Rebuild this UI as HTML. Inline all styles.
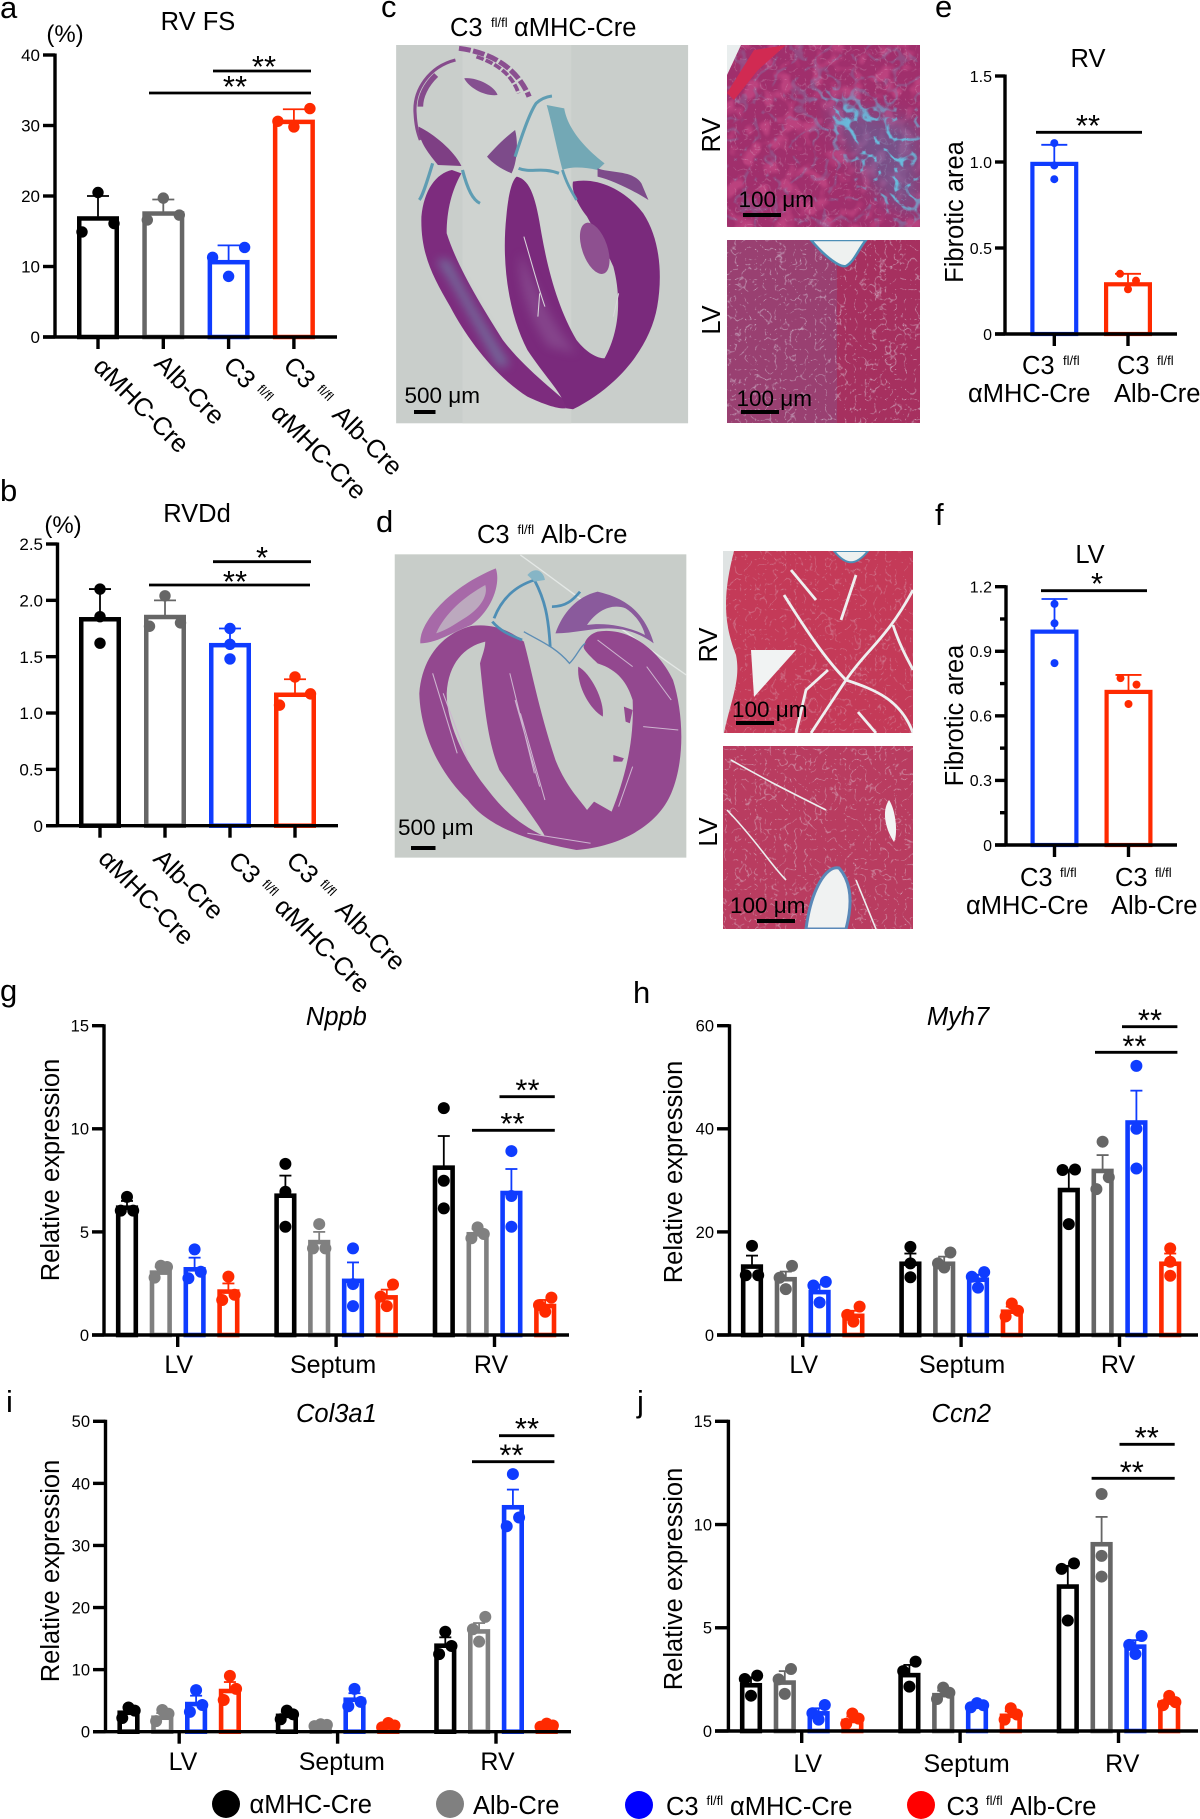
<!DOCTYPE html>
<html lang="en">
<head>
<meta charset="utf-8">
<title>C3 figure</title>
<style>
html,body{margin:0;padding:0;background:#fff;}
svg{display:block;font-family:"Liberation Sans",Arial,sans-serif;}
text{fill:#000;}
</style>
</head>
<body>
<svg id="figure" xmlns="http://www.w3.org/2000/svg" width="1200" height="1819" viewBox="0 0 1200 1819">
<defs>
<filter id="webPale" x="0" y="0" width="1" height="1"><feTurbulence type="turbulence" baseFrequency="0.1" numOctaves="2" seed="4"/><feColorMatrix values="0 0 0 0 .80  0 0 0 0 .86  0 0 0 0 .92  -9 0 0 0 1.0"/></filter>
<filter id="webBlue" x="0" y="0" width="1" height="1"><feTurbulence type="turbulence" baseFrequency="0.05" numOctaves="2" seed="7"/><feColorMatrix values="0 0 0 0 .14  0 0 0 0 .50  0 0 0 0 .72  -10 0 0 0 1.6"/></filter>
<filter id="cellDark" x="0" y="0" width="1" height="1"><feTurbulence type="fractalNoise" baseFrequency="0.06" numOctaves="2" seed="9"/><feColorMatrix values="0 0 0 0 .72  0 0 0 0 .10  0 0 0 0 .30  0 5 0 0 -2.5"/></filter>
<filter id="blurBlue" x="-30%" y="-30%" width="160%" height="160%"><feGaussianBlur stdDeviation="10"/></filter>
<filter id="blurSoft" x="-30%" y="-30%" width="160%" height="160%"><feGaussianBlur stdDeviation="14"/></filter>
<mask id="blueArea"><path fill="#333" d="M731,45H925V227H731Z"/><path fill="#fff" filter="url(#blurBlue)" d="M820,90L925,120V215L895,215C865,175 830,135 820,90Z"/></mask>
<clipPath id="clipCRV"><rect x="731" y="45" width="193" height="182"/></clipPath>
<clipPath id="clipCLV"><rect x="731" y="240" width="193" height="183"/></clipPath>
<clipPath id="clipDRV"><rect x="727" y="551" width="190" height="182"/></clipPath>
<clipPath id="clipDLV"><rect x="727" y="746" width="190" height="183"/></clipPath>
</defs>

<!-- panel letters -->
<g font-size="31">
<text x="0" y="18">a</text>
<text x="0" y="501">b</text>
<text x="381" y="17">c</text>
<text x="376" y="532">d</text>
<text x="935" y="17">e</text>
<text x="935" y="525">f</text>
<text x="0" y="1001">g</text>
<text x="633" y="1003">h</text>
<text x="6" y="1412">i</text>
<text x="637" y="1412">j</text>
</g>

<!-- panel c heart -->
<g transform="translate(380,0) scale(0.3509,0.3333)">
<rect x="46" y="135" width="832" height="1135" fill="#c9cecb"/>
<rect x="235" y="135" width="310" height="1135" fill="#cfd3d0"/>
<path fill="#7d2c7e" d="M205,510C160,520 125,570 118,650C115,760 150,830 200,920C250,1020 330,1130 420,1190C470,1215 510,1228 530,1225L525,1200C470,1150 400,1090 350,1020C290,920 220,800 190,700C190,630 205,570 232,520Z"/>
<path fill="#7a2a7c" d="M390,530C430,540 445,600 460,700C480,820 510,930 560,1020C590,1060 620,1075 640,1075C680,1000 690,900 665,800C640,740 610,690 590,650C560,610 545,570 550,545C620,530 700,570 750,640C800,720 805,830 790,920C770,1040 680,1160 550,1228L530,1225C520,1180 470,1130 420,1050C370,950 345,800 360,650C365,590 375,540 390,530Z"/>
<ellipse cx="612" cy="745" rx="36" ry="80" transform="rotate(-18 612 745)" fill="#8e5090"/>
<path fill="#6f86a8" filter="url(#blurSoft)" opacity=".75" d="M160,780C200,830 260,960 340,1100L370,1095C310,1000 240,870 195,780Z"/>
<path fill="#8e5a98" filter="url(#blurSoft)" opacity=".55" d="M400,760C440,850 480,960 560,1060L480,1040C430,960 390,860 400,760Z"/>
<path fill="none" stroke="#864b8c" stroke-width="9" d="M215,180C140,200 95,270 100,340C102,380 108,400 115,420"/>
<path fill="none" stroke="#864b8c" stroke-width="16" d="M160,225C130,255 115,290 115,320"/>
<path fill="#7e3f84" d="M110,380C150,400 210,450 232,498L165,495C130,450 110,420 110,380Z"/>
<path fill="none" stroke="#8a4f90" stroke-width="15" stroke-dasharray="34 7" d="M225,145C300,155 385,190 425,290"/>
<path fill="none" stroke="#8a4f90" stroke-width="11" stroke-dasharray="22 6" d="M275,170C330,190 375,220 395,280"/>
<path fill="#855090" d="M240,235C270,230 325,255 335,285C300,290 255,265 240,235Z"/>
<path fill="#7d4b8a" d="M305,470C330,440 360,410 385,390C395,430 390,490 375,520C350,510 320,490 305,470Z"/>
<path fill="none" stroke="#5f9db3" stroke-width="9" d="M385,470C400,420 425,340 445,310C460,295 475,290 490,288M395,505C430,520 460,500 510,520M235,510C250,570 265,600 285,610M150,490C130,560 120,590 112,600"/>
<path fill="#73a8b5" d="M475,315L525,325C535,390 590,450 640,490L620,510C580,500 540,500 520,510C500,430 490,370 475,315Z"/>
<path fill="#7d4b8a" d="M620,505C660,520 720,510 745,550L765,600C720,570 660,540 620,530Z"/>
<path fill="none" stroke="#5f9db3" stroke-width="8" d="M520,510C535,560 550,580 560,600"/>
<path fill="none" stroke="#d9d6dc" stroke-width="3" d="M410,710C430,780 450,860 470,920M455,880L450,950M680,880L665,950"/>
</g>

<!-- panel c micrographs -->
<g transform="translate(-4,0)">
<g clip-path="url(#clipCRV)">
<rect x="731" y="45" width="193" height="182" fill="#a02f6c"/>
<rect x="731" y="45" width="193" height="182" filter="url(#cellDark)" opacity=".45"/>
<rect x="731" y="45" width="193" height="182" filter="url(#webPale)" opacity=".25"/>
<path d="M830,100L924,125V215L895,205C865,170 840,135 830,100Z" fill="#3f83b4" filter="url(#blurBlue)" opacity=".4"/>
<rect x="731" y="45" width="193" height="182" filter="url(#webBlue)" mask="url(#blueArea)"/>
<path d="M731,45H745L731,75Z" fill="#e9eeee"/><path d="M731,93L758,50L790,45L762,70L738,100Z" fill="#d12a52"/>
</g>
<g clip-path="url(#clipCLV)">
<rect x="731" y="240" width="193" height="183" fill="#a6305f"/>
<rect x="731" y="240" width="110" height="183" fill="#8a5588" opacity=".45"/>
<rect x="731" y="240" width="193" height="183" filter="url(#webPale)" opacity=".5"/>
<path d="M815,240C830,258 845,268 850,266C858,262 862,250 870,240Z" fill="#eef1f0" stroke="#4c8eb6" stroke-width="2.5"/>
</g>
</g>

<!-- panel d heart -->
<g transform="translate(380,500) scale(0.3509,0.3333)">
<rect x="42" y="163" width="831" height="910" fill="#c8cdc9"/>
<path d="M400,165C500,240 700,400 873,525" fill="none" stroke="#e4e8e6" stroke-width="4"/>
<path fill="#93488f" d="M260,378C180,400 120,470 112,580C115,700 170,820 250,900C300,970 400,1020 560,1050C680,1040 790,980 830,880C870,780 865,640 835,540C790,440 700,380 620,395C590,405 575,430 580,470L540,490L410,425C370,390 320,370 260,378Z"/>
<path fill="#c8cdc9" d="M300,425C240,440 195,490 190,580C190,670 240,780 300,860C330,900 370,960 470,1010C470,1000 400,900 340,810C310,730 300,650 285,490C290,470 300,445 300,425Z"/>
<path fill="#c8cdc9" d="M410,425C430,500 450,620 500,780C530,860 570,900 590,930L610,905L660,935C700,830 725,720 720,600C705,550 680,510 620,490C600,470 580,450 580,440L520,450Z"/>
<path fill="#93488f" d="M565,500C600,520 640,600 635,650C600,630 560,560 565,500Z"/>
<path fill="#93488f" d="M695,620L720,630L712,670L700,665ZM665,765L695,775L690,785L665,785Z"/>
<path fill="#a769a8" d="M115,430C110,380 180,270 330,205C345,250 320,330 260,375C200,400 160,430 115,430Z"/>
<path fill="#c8cdc9" opacity=".65" d="M160,400C185,340 240,290 300,255C310,290 280,330 240,355C210,375 190,390 160,400Z"/>
<path fill="#8a5a9c" d="M500,400C520,340 560,290 620,275C680,290 750,320 780,430C740,400 700,385 650,385C600,385 550,400 500,400Z"/>
<path fill="#c8cdc9" d="M590,375C620,330 660,310 700,325C730,345 750,380 755,405C720,385 650,365 590,375Z"/>
<path fill="none" stroke="#4e8eb5" stroke-width="8" d="M325,355C345,300 380,260 440,240M440,240C470,300 480,350 485,440M490,320C530,320 550,300 570,275M320,365C345,395 370,405 405,420"/>
<path fill="none" stroke="#5c8db5" stroke-width="4" d="M410,395C450,420 500,440 540,490C560,470 570,440 585,430"/>
<path fill="#86b5c6" d="M420,225C440,200 465,210 470,240L440,245Z"/>
<path fill="none" stroke="#cdb5d0" stroke-width="3" d="M370,520L440,820M400,640L470,900M385,600L455,860M620,420L720,500M180,580L250,780M150,520L220,760M760,500L830,600M720,800L680,920M750,680L850,690M420,1000L600,1030"/>
</g>

<!-- panel d micrographs -->
<g transform="translate(-4,0)">
<g clip-path="url(#clipDRV)">
<rect x="727" y="551" width="190" height="182" fill="#c43a58"/>
<rect x="727" y="551" width="190" height="182" filter="url(#webPale)" opacity=".3"/>
<path d="M727,551H738C728,590 726,620 740,655C745,680 735,700 728,733H727Z" fill="#dfe3e3"/>
<path d="M755,650H800L758,697Z" fill="#f1f3f3"/>
<g fill="none" stroke="#eef0f0" stroke-width="2.8"><path d="M788,595C810,630 830,660 850,680C870,650 890,640 917,590M850,680L815,733M850,680C880,690 905,700 917,733M862,712L880,733M897,625C905,650 915,665 917,670M845,620L860,575M795,570L820,600M832,670L810,690L800,733"/></g>
<path d="M838,551C850,566 860,566 872,551Z" fill="#eef1f0" stroke="#4c8eb6" stroke-width="2"/>
</g>
<g clip-path="url(#clipDLV)">
<rect x="727" y="746" width="190" height="183" fill="#b93c60"/>
<rect x="727" y="746" width="190" height="183" filter="url(#webPale)" opacity=".45"/>
<path d="M810,929C815,890 830,865 843,868C858,885 855,910 850,929Z" fill="#f0f2f2" stroke="#5a88b8" stroke-width="3"/>
<path d="M893,800C900,810 902,835 898,842C890,830 885,812 893,800Z" fill="#f3f4f4"/>
<g fill="none" stroke="#ecefef" stroke-width="1.6"><path d="M731,810C760,840 775,865 790,880M735,760C770,780 790,790 830,810M860,880L880,929"/></g>
</g>
</g>

<!-- image titles and scale labels -->
<g font-size="25.5">
<text x="450" y="36">C3</text>
<text x="491" y="27" font-size="13">fl/fl</text>
<text x="514" y="36">αMHC-Cre</text>
<text x="477" y="543">C3</text>
<text x="517.5" y="534" font-size="13">fl/fl</text>
<text x="541" y="543">Alb-Cre</text>
<text text-anchor="middle" transform="translate(720,135) rotate(-90)">RV</text>
<text text-anchor="middle" transform="translate(720,320) rotate(-90)">LV</text>
<text text-anchor="middle" transform="translate(717,645) rotate(-90)">RV</text>
<text text-anchor="middle" transform="translate(717,832) rotate(-90)">LV</text>
</g>
<g font-size="22.5">
<text x="404.5" y="403">500 μm</text>
<text x="738.5" y="207">100 μm</text>
<text x="736.5" y="406">100 μm</text>
<text x="398" y="835">500 μm</text>
<text x="732" y="717">100 μm</text>
<text x="730" y="913">100 μm</text>
</g>
<g fill="#000">
<rect x="414" y="410" width="21.5" height="4"/>
<rect x="743" y="213" width="38" height="4"/>
<rect x="741" y="410" width="38" height="4"/>
<rect x="411" y="846" width="24.5" height="4"/>
<rect x="736" y="721" width="38" height="4"/>
<rect x="757" y="919" width="38" height="4"/>
</g>

<!-- legend -->
<g font-size="25.5">
<circle cx="226" cy="1804" r="14" fill="#000"/>
<text x="249.5" y="1813">αMHC-Cre</text>
<circle cx="450" cy="1804" r="14" fill="#808080"/>
<text x="473" y="1814">Alb-Cre</text>
<circle cx="639" cy="1805" r="14" fill="#0000ff"/>
<text x="666" y="1815">C3</text>
<text x="706.5" y="1805" font-size="13">fl/fl</text>
<text x="730" y="1815">αMHC-Cre</text>
<circle cx="921" cy="1805" r="14" fill="#ff0000"/>
<text x="946.5" y="1815">C3</text>
<text x="986" y="1805" font-size="13">fl/fl</text>
<text x="1010" y="1815">Alb-Cre</text>
</g>
<g id="charts"></g>
</svg>

<script>
/* ---------- panel a: RV FS ---------- */
const rvFsMeans = [17.1, 17.8, 10.9, 30.8];
const rvFsErrorTops = [20.0, 19.5, 13.0, 32.3];
const rvFsPoints = [[20.5, 16.1, 14.9], [19.7, 17.3, 16.6], [12.7, 11.3, 8.6], [32.4, 30.6, 29.8]];
const rvFsTicks = [0, 10, 20, 30, 40];
const rvFsTickLabels = ['0', '10', '20', '30', '40'];

/* ---------- panel b: RVDd ---------- */
const rvddMeans = [1.85, 1.87, 1.62, 1.18];
const rvddErrorTops = [2.10, 2.00, 1.75, 1.30];
const rvddPoints = [[2.10, 1.855, 1.62], [2.04, 1.80, 1.77], [1.75, 1.61, 1.48], [1.32, 1.17, 1.07]];
const rvddTicks = [0, 0.5, 1.0, 1.5, 2.0, 2.5];
const rvddTickLabels = ['0', '0.5', '1.0', '1.5', '2.0', '2.5'];

/* ---------- panel e: RV fibrotic area ---------- */
const fibrosisRvMeans = [1.0, 0.30];
const fibrosisRvErrorTops = [1.10, 0.35];
const fibrosisRvPoints = [[1.11, 0.98, 0.90], [0.35, 0.31, 0.26]];
const fibrosisRvTicks = [0, 0.5, 1.0, 1.5];
const fibrosisRvTickLabels = ['0', '0.5', '1.0', '1.5'];

/* ---------- panel f: LV fibrotic area ---------- */
const fibrosisLvMeans = [1.0, 0.72];
const fibrosisLvErrorTops = [1.143, 0.79];
const fibrosisLvPoints = [[1.12, 1.03, 0.845], [0.775, 0.745, 0.655]];
const fibrosisLvTicks = [0, 0.3, 0.6, 0.9, 1.2];
const fibrosisLvTickLabels = ['0', '0.3', '0.6', '0.9', '1.2'];
const fibrosisLvMinorTicks = [0.15, 0.45, 0.75, 1.05];

/* ---------- grouped charts ---------- */
const tissueGroups = ['LV', 'Septum', 'RV'];

/* panel g */
const nppbMeans = [[6.22, 3.07, 3.23, 2.15], [6.8, 4.55, 2.67, 1.87], [8.16, 4.93, 6.93, 1.45]];
const nppbErrorTops = [[6.5, 3.3, 3.75, 2.5], [7.73, 5.0, 3.52, 2.2], [9.65, 5.15, 8.05, 1.7]];
const nppbPoints = [
  [[6.7, 6.03, 6.03], [3.36, 3.3, 2.78], [4.15, 3.07, 2.75], [2.83, 1.95, 1.7]],
  [[8.3, 6.95, 5.25], [5.38, 4.2, 4.2], [4.2, 2.47, 1.4], [2.45, 1.86, 1.4]],
  [[11.0, 7.48, 6.14], [5.22, 4.9, 4.69], [8.92, 6.74, 5.25], [1.81, 1.45, 1.13]]
];
const nppbTicks = [0, 5, 10, 15];
const nppbTickLabels = ['0', '5', '10', '15'];

/* panel h */
const myh7Means = [[13.45, 11.0, 8.5, 3.9], [14.0, 14.0, 10.9, 4.7], [28.3, 32.0, 41.4, 14.0]];
const myh7ErrorTops = [[15.4, 12.3, 9.8, 4.7], [15.8, 15.2, 11.7, 5.5], [32.0, 34.9, 47.4, 15.8]];
const myh7Points = [
  [[17.3, 11.6, 11.6], [13.4, 11.1, 8.9], [10.3, 9.6, 6.3], [5.5, 3.9, 2.6]],
  [[17.1, 13.9, 11.2], [16.0, 13.9, 13.1], [12.2, 11.3, 9.2], [6.1, 4.7, 3.6]],
  [[32.1, 32.0, 21.5], [37.5, 30.6, 28.3], [52.2, 40.0, 32.3], [16.8, 14.2, 11.5]]
];
const myh7Ticks = [0, 20, 40, 60];
const myh7TickLabels = ['0', '20', '40', '60'];

/* panel i */
const col3a1Means = [[3.2, 2.4, 4.6, 6.7], [2.7, 1.1, 5.3, 0.9], [14.0, 16.3, 36.3, 1.0]];
const col3a1ErrorTops = [[3.9, 3.0, 5.8, 8.0], [3.2, 1.2, 6.2, 1.1], [15.2, 17.5, 39.0, 1.1]];
const col3a1Points = [
  [[3.9, 3.4, 2.2], [3.5, 2.9, 1.7], [6.7, 4.3, 3.2], [9.0, 6.9, 5.1]],
  [[3.4, 2.8, 2.0], [1.2, 1.1, 0.9], [6.9, 4.8, 4.1], [1.4, 1.0, 0.7]],
  [[16.1, 13.8, 12.5], [18.5, 16.5, 14.5], [41.5, 34.5, 33.1], [1.3, 1.0, 0.8]]
];
const col3a1Ticks = [0, 10, 20, 30, 40, 50];
const col3a1TickLabels = ['0', '10', '20', '30', '40', '50'];

/* panel j */
const ccn2Means = [[2.26, 2.39, 0.9, 0.53], [2.75, 1.78, 1.26, 0.78], [7.04, 9.09, 4.13, 1.42]];
const ccn2ErrorTops = [[2.6, 2.9, 1.1, 0.7], [3.2, 1.95, 1.3, 0.95], [8.0, 10.37, 4.4, 1.55]];
const ccn2Points = [
  [[2.68, 2.52, 1.71], [3.0, 2.5, 1.8], [1.26, 0.86, 0.55], [0.85, 0.6, 0.35]],
  [[3.36, 2.9, 2.15], [2.1, 1.85, 1.55], [1.35, 1.25, 1.15], [1.1, 0.8, 0.55]],
  [[8.12, 7.85, 5.35], [11.48, 8.48, 7.48], [4.6, 4.17, 3.73], [1.7, 1.4, 1.25]]
];
const ccn2Ticks = [0, 5, 10, 15];
const ccn2TickLabels = ['0', '5', '10', '15'];

/* ---------- drawing helpers ---------- */
const NS = 'http://www.w3.org/2000/svg';
const root = document.getElementById('charts');
const BLACK = '#000000', BLUE = '#0f3cff', RED = '#ff2a00';

function mk(tag, attrs, parent, content) {
  const el = document.createElementNS(NS, tag);
  for (const k in attrs) el.setAttribute(k, attrs[k]);
  if (content !== undefined) el.textContent = content;
  (parent || root).appendChild(el);
  return el;
}

function linearScale(d0, d1, r0, r1) {
  return function (v) { return r0 + (v - d0) * (r1 - r0) / (d1 - d0); };
}

/* sideways spread of the dots of one bar: close values share a row */
function pointOffsets(values, y, spread, binPx, flip) {
  const order = values.map(function (v, i) { return i; }).sort(function (a, b) { return values[b] - values[a]; });
  const out = values.map(function () { return 0; });
  const sign = flip ? -1 : 1;
  let i = 0;
  while (i < order.length) {
    const bin = [order[i]];
    let j = i + 1;
    while (j < order.length && Math.abs(y(values[order[j]]) - y(values[order[i]])) <= binPx) { bin.push(order[j]); j++; }
    if (bin.length === 2) { out[bin[0]] = sign * spread; out[bin[1]] = -sign * spread; }
    if (bin.length === 3) { out[bin[0]] = 0; out[bin[1]] = sign * spread; out[bin[2]] = -sign * spread; }
    i = j;
  }
  return out;
}

function drawYAxis(g, c, y) {
  const axis = mk('line', { x1: c.axisX, x2: c.axisX, y1: c.yTop - 1.5, y2: c.yBottom, stroke: '#000', 'stroke-width': c.axisWidth }, g);
  
  
  c.ticks.forEach(function (t, i) {
    const tick = mk('line', { x1: c.axisLeft, x2: c.axisX, y1: y(t), y2: y(t), stroke: '#000', 'stroke-width': c.axisWidth }, g);
    
    
    const label = mk('text', { x: c.axisLeft - 3, y: y(t) + c.tickFont * 0.36, 'text-anchor': 'end', 'font-size': c.tickFont }, g, c.tickLabels[i]);
    
    
  });
  (c.minorTicks || []).forEach(function (t) {
    const minor = mk('line', { x1: c.axisX - 6, x2: c.axisX, y1: y(t), y2: y(t), stroke: '#000', 'stroke-width': c.axisWidth }, g);
    
    
  });
}

function drawXAxisLine(g, c, y) {
  const axis = mk('line', { x1: c.axisLeft, x2: c.axisRight, y1: y(0), y2: y(0), stroke: '#000', 'stroke-width': c.axisWidth }, g);
  
  
}

function drawBarMark(g, c, y, cx, mean, errTop, pts, color) {
  const err = mk('line', { x1: cx, x2: cx, y1: y(mean), y2: y(errTop), stroke: color, 'stroke-width': 1.8 }, g);
  
  
  const cap = mk('line', { x1: cx - c.capHalf, x2: cx + c.capHalf, y1: y(errTop), y2: y(errTop), stroke: color, 'stroke-width': 1.8 }, g);
  
  
  const half = c.barWidth / 2 - c.barStroke / 2;
  const top = y(mean) + c.barStroke * c.topInset;
  const bar = mk('rect', { x: cx - half, y: top, width: half * 2, height: y(0) - top, fill: 'none', stroke: color, 'stroke-width': c.barStroke }, g);
  
  
  const offs = pointOffsets(pts, y, c.spread, c.binPx, c.flip);
  pts.forEach(function (v, i) {
    const dot = mk('circle', { cx: cx + offs[i], cy: y(v), r: c.r, fill: color }, g);
    
    
  });
}

function drawSig(g, s) {
  const line = mk('line', { x1: s.x1, x2: s.x2, y1: s.y, y2: s.y, stroke: '#000', 'stroke-width': 2.8 }, g);
  
  
  const star = mk('text', { x: s.sx, y: s.sy + 14, 'text-anchor': 'middle', 'font-size': 31 }, g, s.mark);
  
  
}

function drawTitle(g, t) {
  const title = mk('text', { x: t.x, y: t.y, 'text-anchor': 'middle', 'font-size': t.size || 25.5, 'font-style': t.italic ? 'italic' : 'normal' }, g, t.text);
  
  
}

function drawYTitle(g, t) {
  const title = mk('text', { 'text-anchor': 'middle', 'font-size': 25.5, transform: 'translate(' + t.x + ',' + t.y + ') rotate(-90)' }, g, t.text);
  
  
}

/* ungrouped bar chart (panels a, b, e, f) */
function drawColumns(c) {
  const g = mk('g', {});
  
  
  const y = linearScale(0, c.ticks[c.ticks.length - 1], c.yBottom, c.yTop);
  const x = function (i) { return c.firstBar + i * c.barStep; };
  c.means.forEach(function (m, i) {
    drawBarMark(g, c, y, x(i), m, c.errorTops[i], c.points[i], c.colors[i]);
    const tick = mk('line', { x1: x(i), x2: x(i), y1: y(0), y2: y(0) + 12, stroke: '#000', 'stroke-width': c.axisWidth }, g);
    
    
  });
  drawYAxis(g, c, y);
  drawXAxisLine(g, c, y);
  (c.sig || []).forEach(function (s) { drawSig(g, s); });
  return g;
}

/* grouped bar chart (panels g, h, i, j) */
function drawGrouped(c) {
  const g = mk('g', {});
  
  
  const y = linearScale(0, c.ticks[c.ticks.length - 1], c.yBottom, c.yTop);
  const x = function (gi, si) { return c.firstBar + gi * c.groupStep + si * c.barStep; };
  c.means.forEach(function (row, gi) {
    row.forEach(function (m, si) {
      drawBarMark(g, c, y, x(gi, si), m, c.errorTops[gi][si], c.points[gi][si], c.colors[si]);
    });
    const tx = x(gi, 1.5);
    const tick = mk('line', { x1: tx, x2: tx, y1: y(0), y2: y(0) + 12, stroke: '#000', 'stroke-width': c.axisWidth }, g);
    
    
    const label = mk('text', { x: tx + c.groupLabelShift[gi], y: c.groupLabelY, 'text-anchor': 'middle', 'font-size': 25 }, g, c.groups[gi]);
    
    
  });
  drawYAxis(g, c, y);
  drawXAxisLine(g, c, y);
  (c.sig || []).forEach(function (s) { drawSig(g, s); });
  return g;
}

/* slanted category label: main text, optional floxed superscript */
function slanted(g, px, py, parts) {
  const t = mk('text', { 'font-size': 25.5, transform: 'translate(' + px + ',' + py + ') rotate(45)' }, g);
  
  
  parts.forEach(function (p) {
    const span = mk('tspan', { dx: p.dx || 0, dy: p.dy || 0, 'font-size': p.size || 25.5 }, t, p.text);
    
    
  });
}

function stacked(g, c3x, floxX, c3y, creX, creY, creText) {
  const a = mk('text', { x: c3x, y: c3y, 'font-size': 25.5 }, g, 'C3');
  
  
  const b = mk('text', { x: floxX, y: c3y - 9, 'font-size': 13 }, g, 'fl/fl');
  
  
  const d = mk('text', { x: creX, y: creY, 'font-size': 25.5 }, g, creText);
  
  
}

const GRAY_DARK = '#666666', GRAY_MID = '#808080';
const barStyle = { axisWidth: 3.4, tickFont: 17, barStroke: 4.5, capHalf: 11, r: 5.7, binPx: 13, topInset: 0.45 };
const groupStyle = { axisWidth: 3.4, tickFont: 16.5, barStroke: 4.6, barWidth: 22.2, capHalf: 6, r: 6, spread: 6.2, binPx: 13, barStep: 33.8, groupStep: 158.4, groupLabelY: 0, topInset: 0.2 };

/* ---------- panel a ---------- */
const panelA = drawColumns(Object.assign({}, barStyle, {
  name: 'rv-fs-chart', means: rvFsMeans, errorTops: rvFsErrorTops, points: rvFsPoints,
  ticks: rvFsTicks, tickLabels: rvFsTickLabels, colors: [BLACK, GRAY_DARK, BLUE, RED],
  axisX: 55, axisLeft: 43, axisRight: 337, yTop: 55, yBottom: 337,
  firstBar: 98, barStep: 65.3, barWidth: 42, spread: 16,
  sig: [{ x1: 213, x2: 311, y: 71, sx: 264, sy: 63, mark: '**' }, { x1: 149, x2: 311, y: 93, sx: 235, sy: 83, mark: '**' }]
}));
drawTitle(panelA, { x: 198, y: 30, text: 'RV FS' });
drawTitle(panelA, { x: 65, y: 42, text: '(%)', size: 24 });
slanted(panelA, 92, 368, [{ text: 'αMHC-Cre' }]);
slanted(panelA, 153, 365, [{ text: 'Alb-Cre' }]);
slanted(panelA, 222, 367, [{ text: 'C3' }, { text: 'fl/fl', size: 13, dx: 8, dy: -8 }, { text: 'αMHC-Cre', dx: 10, dy: 8 }]);
slanted(panelA, 282, 367, [{ text: 'C3' }, { text: 'fl/fl', size: 13, dx: 8, dy: -8 }, { text: 'Alb-Cre', dx: 12, dy: 8 }]);

/* ---------- panel b ---------- */
const panelB = drawColumns(Object.assign({}, barStyle, {
  name: 'rvdd-chart', means: rvddMeans, errorTops: rvddErrorTops, points: rvddPoints,
  ticks: rvddTicks, tickLabels: rvddTickLabels, colors: [BLACK, GRAY_DARK, BLUE, RED],
  axisX: 57.5, axisLeft: 46, axisRight: 338, yTop: 544, yBottom: 825.7,
  firstBar: 100, barStep: 65, barWidth: 42, spread: 15.5,
  sig: [{ x1: 213, x2: 311, y: 561.7, sx: 262, sy: 554, mark: '*' }, { x1: 149, x2: 310, y: 585, sx: 235, sy: 578, mark: '**' }]
}));
drawTitle(panelB, { x: 197, y: 522, text: 'RVDd' });
drawTitle(panelB, { x: 63, y: 533, text: '(%)', size: 24 });
slanted(panelB, 97, 860, [{ text: 'αMHC-Cre' }]);
slanted(panelB, 152, 860, [{ text: 'Alb-Cre' }]);
slanted(panelB, 227, 862, [{ text: 'C3' }, { text: 'fl/fl', size: 13, dx: 8, dy: -8 }, { text: 'αMHC-Cre', dx: 8, dy: 8 }]);
slanted(panelB, 285, 862, [{ text: 'C3' }, { text: 'fl/fl', size: 13, dx: 8, dy: -8 }, { text: 'Alb-Cre', dx: 12, dy: 8 }]);

/* ---------- panel e ---------- */
const panelE = drawColumns(Object.assign({}, barStyle, {
  name: 'rv-fibrotic-area-chart', means: fibrosisRvMeans, errorTops: fibrosisRvErrorTops, points: fibrosisRvPoints,
  ticks: fibrosisRvTicks, tickLabels: fibrosisRvTickLabels, colors: [BLUE, RED],
  axisX: 1005, axisLeft: 995, axisRight: 1177, yTop: 76, yBottom: 334, tickFont: 16,
  firstBar: 1054.3, barStep: 73.7, barWidth: 48, barStroke: 4.2, capHalf: 13, r: 4, spread: 8, binPx: 10, flip: true,
  sig: [{ x1: 1036, x2: 1142, y: 132.3, sx: 1088, sy: 122, mark: '**' }]
}));
drawTitle(panelE, { x: 1088, y: 67, text: 'RV' });
drawYTitle(panelE, { x: 963, y: 212, text: 'Fibrotic area' });
stacked(panelE, 1022, 1063, 374, 968, 402, 'αMHC-Cre');
stacked(panelE, 1117, 1157, 374, 1114, 402, 'Alb-Cre');

/* ---------- panel f ---------- */
const panelF = drawColumns(Object.assign({}, barStyle, {
  name: 'lv-fibrotic-area-chart', means: fibrosisLvMeans, errorTops: fibrosisLvErrorTops, points: fibrosisLvPoints,
  ticks: fibrosisLvTicks, tickLabels: fibrosisLvTickLabels, minorTicks: fibrosisLvMinorTicks, colors: [BLUE, RED],
  axisX: 1006, axisLeft: 995, axisRight: 1177, yTop: 586.7, yBottom: 845, tickFont: 16,
  firstBar: 1054.5, barStep: 74, barWidth: 48, barStroke: 4.2, capHalf: 13, r: 4, spread: 8, binPx: 10, flip: true,
  sig: [{ x1: 1041, x2: 1147, y: 590.7, sx: 1097, sy: 580, mark: '*' }]
}));
drawTitle(panelF, { x: 1090, y: 563, text: 'LV' });
drawYTitle(panelF, { x: 963, y: 715.5, text: 'Fibrotic area' });
stacked(panelF, 1020, 1060, 886, 966, 914, 'αMHC-Cre');
stacked(panelF, 1115, 1155, 886, 1111, 914, 'Alb-Cre');

/* ---------- panel g ---------- */
const panelG = drawGrouped(Object.assign({}, groupStyle, {
  name: 'nppb-chart', groups: tissueGroups, means: nppbMeans, errorTops: nppbErrorTops, points: nppbPoints,
  ticks: nppbTicks, tickLabels: nppbTickLabels, colors: [BLACK, GRAY_MID, BLUE, RED],
  axisX: 104, axisLeft: 92, axisRight: 569, yTop: 1025.7, yBottom: 1335,
  firstBar: 127, groupLabelY: 1373, groupLabelShift: [1, -3, -3.5],
  sig: [{ x1: 499.5, x2: 554.8, y: 1096.7, sx: 527.5, sy: 1086.7, mark: '**' }, { x1: 472, x2: 554.8, y: 1130.3, sx: 512.5, sy: 1120, mark: '**' }]
}));
drawTitle(panelG, { x: 336.4, y: 1025, text: 'Nppb', italic: true });
drawYTitle(panelG, { x: 59, y: 1170, text: 'Relative expression' });

/* ---------- panel h ---------- */
const panelH = drawGrouped(Object.assign({}, groupStyle, {
  name: 'myh7-chart', groups: tissueGroups, means: myh7Means, errorTops: myh7ErrorTops, points: myh7Points,
  ticks: myh7Ticks, tickLabels: myh7TickLabels, colors: [BLACK, GRAY_DARK, BLUE, RED],
  axisX: 729.5, axisLeft: 717, axisRight: 1198, yTop: 1025.7, yBottom: 1335,
  firstBar: 752, groupLabelY: 1373, groupLabelShift: [1, 1, -1.5],
  sig: [{ x1: 1122, x2: 1177.4, y: 1026.7, sx: 1150, sy: 1016.7, mark: '**' }, { x1: 1095, x2: 1177.4, y: 1052.3, sx: 1134.5, sy: 1042.7, mark: '**' }]
}));
drawTitle(panelH, { x: 958, y: 1025, text: 'Myh7', italic: true });
drawYTitle(panelH, { x: 682, y: 1172, text: 'Relative expression' });

/* ---------- panel i ---------- */
const panelI = drawGrouped(Object.assign({}, groupStyle, {
  name: 'col3a1-chart', groups: tissueGroups, means: col3a1Means, errorTops: col3a1ErrorTops, points: col3a1Points,
  ticks: col3a1Ticks, tickLabels: col3a1TickLabels, colors: [BLACK, GRAY_MID, BLUE, RED],
  axisX: 105.5, axisLeft: 93, axisRight: 571, yTop: 1421.3, yBottom: 1731.7,
  firstBar: 128.5, groupLabelY: 1770, groupLabelShift: [3.8, 4.2, 1.5],
  sig: [{ x1: 499, x2: 554.4, y: 1435.7, sx: 527, sy: 1425, mark: '**' }, { x1: 472, x2: 554.4, y: 1461.7, sx: 511.5, sy: 1451.7, mark: '**' }]
}));
drawTitle(panelI, { x: 336.4, y: 1422, text: 'Col3a1', italic: true });
drawYTitle(panelI, { x: 59, y: 1571, text: 'Relative expression' });

/* ---------- panel j ---------- */
const panelJ = drawGrouped(Object.assign({}, groupStyle, {
  name: 'ccn2-chart', groups: tissueGroups, means: ccn2Means, errorTops: ccn2ErrorTops, points: ccn2Points,
  ticks: ccn2Ticks, tickLabels: ccn2TickLabels, colors: [BLACK, GRAY_DARK, BLUE, RED],
  axisX: 728.4, axisLeft: 715, axisRight: 1198, yTop: 1421.3, yBottom: 1731,
  firstBar: 751, groupLabelY: 1772, groupLabelShift: [6, 6.5, 3.8],
  sig: [{ x1: 1119.5, x2: 1174.7, y: 1444.3, sx: 1146.7, sy: 1434, mark: '**' }, { x1: 1091.6, x2: 1174.7, y: 1478.3, sx: 1131.8, sy: 1468.3, mark: '**' }]
}));
drawTitle(panelJ, { x: 961.3, y: 1422, text: 'Ccn2', italic: true });
drawYTitle(panelJ, { x: 682, y: 1579, text: 'Relative expression' });
</script>
</body>
</html>
